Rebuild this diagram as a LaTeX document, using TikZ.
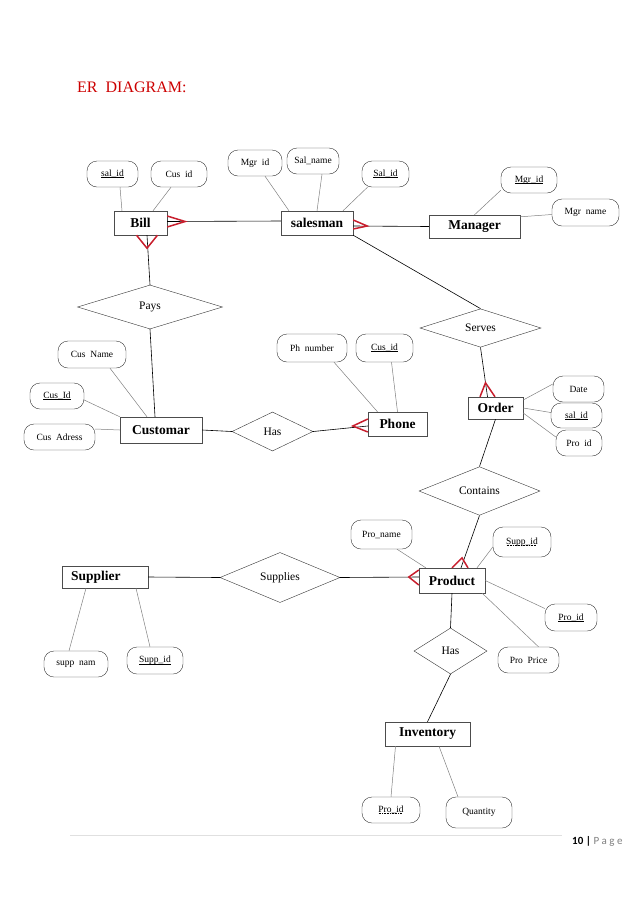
\documentclass[tikz,border=0pt]{standalone}
\usepackage{fontspec}
\setmainfont{Liberation Serif}
\newfontfamily\piedfont{Carlito}
\usetikzlibrary{shapes.geometric}
\definecolor{titre}{RGB}{204,0,0}
\definecolor{rouge}{RGB}{200,30,45}
\newcommand\souligne[1]{\leavevmode\setbox0\hbox{#1}\rlap{\vrule width\wd0 height -0.8pt depth 1.3pt}\box0}
\newcommand\pointille[1]{\leavevmode\setbox0\hbox{#1}\rlap{\hbox to\wd0{\leaders\hbox to 1.6pt{\hss\vrule width 0.8pt height -0.8pt depth 1.3pt\hss}\hfill}}\box0}

\begin{document}
\begin{tikzpicture}[x=1pt,y=-1pt]
\tikzset{entite/.style={draw=black!70, rectangle, inner sep=0pt, font=\fontsize{13.5}{16}\selectfont\bfseries},
  attribut/.style={draw=black!80, rectangle, rounded corners=10pt, inner sep=0pt, font=\fontsize{9.5}{11}\selectfont},
  relation/.style={draw=black!80, diamond, inner sep=0pt, font=\fontsize{11.5}{13}\selectfont},
  lien/.style={draw=black, line width=0.6pt},
  lienattr/.style={draw=black!50, line width=0.5pt},
  patte/.style={draw=rouge, line width=1.5pt}}
\useasboundingbox (0,0) rectangle (638,903);
\node[anchor=base west, inner sep=0pt, text=titre, font=\fontsize{16}{19}\selectfont] (Titre) at (77,92) {ER\ \ DIAGRAM:};
% entites
\node[entite, minimum width=53pt, minimum height=24pt] (Bill) at (140.5,223) {Bill};
\node[entite, minimum width=72pt, minimum height=24pt] (Salesman) at (317,223) {salesman};
\node[entite, minimum width=91pt, minimum height=23pt] (Manager) at (474.5,226.5) {Manager};
\node[entite, minimum width=82pt, minimum height=26pt] (Customar) at (161,430) {Customar};
\node[entite, minimum width=59pt, minimum height=24pt] (Phone) at (397.5,424) {Phone};
\node[entite, minimum width=55pt, minimum height=22pt] (Order) at (495.5,408) {Order};
\node[entite, minimum width=66pt, minimum height=25pt] (Product) at (452,580.5) {Product};
\node[entite, minimum height=22pt, inner xsep=9pt, text width=68pt, align=left] (Supplier) at (105,577) {Supplier};
\node[entite, minimum width=85pt, minimum height=24pt] (Inventory) at (427.5,734) {Inventory};
% relations
\node[relation, minimum width=145pt, minimum height=44pt] (Pays) at (150,307) {Pays};
\node[relation, minimum width=81pt, minimum height=39pt] (Has1) at (272.5,431.5) {Has};
\node[relation, minimum width=121pt, minimum height=38pt] (Serves) at (480.5,328) {Serves};
\node[relation, minimum width=121pt, minimum height=42pt] (Contains) at (479.5,491) {Contains};
\node[relation, minimum width=120pt, minimum height=45pt] (Supplies) at (280,577.5) {Supplies};
\node[relation, minimum width=73pt, minimum height=46pt] (Has2) at (450.5,651) {Has};
% attributs
\node[attribut, minimum width=51pt, minimum height=26pt] (BsalId) at (112.5,174) {\souligne{sal\_id}};
\node[attribut, minimum width=56pt, minimum height=26pt] (BcusId) at (179,174) {Cus\ \ id};
\node[attribut, minimum width=54pt, minimum height=26pt] (SmgrId) at (255,163) {Mgr\ \ id};
\node[attribut, minimum width=52pt, minimum height=26pt] (SalName) at (313,161) {Sal\_name};
\node[attribut, minimum width=47pt, minimum height=26pt] (SalId) at (385.5,174) {\souligne{Sal\_id}};
\node[attribut, minimum width=56pt, minimum height=26pt] (MmgrId) at (529,180) {\souligne{Mgr\_id}};
\node[attribut, minimum width=67pt, minimum height=27pt] (MgrName) at (585.5,212.5) {Mgr\ \ name};
\node[attribut, minimum width=68pt, minimum height=27pt] (CusName) at (92,354.5) {Cus\ \ Name};
\node[attribut, minimum width=54pt, minimum height=26pt] (CusId) at (57,396) {\souligne{Cus\_Id}};
\node[attribut, minimum width=71pt, minimum height=26pt] (CusAdr) at (59.5,437) {Cus\ \ Adress};
\node[attribut, minimum width=70pt, minimum height=28pt] (PhNum) at (312,348) {Ph\ \ number};
\node[attribut, minimum width=57pt, minimum height=28pt] (PcusId) at (384.5,348) {\souligne{Cus\_id}};
\node[attribut, minimum width=51pt, minimum height=26pt] (Date) at (578.5,389) {Date};
\node[attribut, minimum width=51pt, minimum height=25pt] (OsalId) at (576.5,415.5) {\souligne{sal\_id}};
\node[attribut, minimum width=46pt, minimum height=26pt] (OproId) at (579,443) {Pro\ \ id};
\node[attribut, minimum width=61pt, minimum height=29pt] (ProName) at (381.5,534.5) {Pro\_name};
\node[attribut, minimum width=58pt, minimum height=30pt] (PsuppId) at (522,542) {\pointille{Supp\_id}};
\node[attribut, minimum width=52pt, minimum height=27pt] (PproId) at (571,617.5) {\souligne{Pro\_id}};
\node[attribut, minimum width=61pt, minimum height=26pt] (ProPrice) at (528.5,660) {Pro\ \ Price};
\node[attribut, minimum width=64pt, minimum height=26pt] (SuppNam) at (76,664) {supp\ \ nam};
\node[attribut, minimum width=56pt, minimum height=27pt] (SsuppId) at (155,660.5) {\souligne{Supp\_id}};
\node[attribut, minimum width=58pt, minimum height=26pt] (IproId) at (391,810) {\pointille{Pro\_id}};
\node[attribut, minimum width=66pt, minimum height=31pt] (Quantity) at (479,812.5) {Quantity};
% liens des attributs
\draw[lienattr] ([xshift=-18.5pt]Bill.north) -- ([xshift=7.5pt]BsalId.south);
\draw[lienattr] ([xshift=12.5pt]Bill.north) -- ([xshift=-8pt]BcusId.south);
\draw[lienattr] ([xshift=-28pt]Salesman.north) -- ([xshift=10pt]SmgrId.south);
\draw[lienattr] (Salesman.north) -- ([xshift=9pt]SalName.south);
\draw[lienattr] ([xshift=26pt]Salesman.north) -- ([xshift=-18pt]SalId.south);
\draw[lienattr] (Manager.north) -- (MmgrId.200);
\draw[lienattr] ([yshift=-2pt]Manager.north east) -- ([yshift=-2pt]MgrName.west);
\draw[lienattr] ([xshift=-14pt]Customar.north) -- ([xshift=18pt]CusName.south);
\draw[lienattr] (Customar.north west) -- ([yshift=-4pt]CusId.east);
\draw[lienattr] (Customar.west) -- ([yshift=8pt]CusAdr.east);
\draw[lienattr] ([xshift=-20pt]Phone.north) -- ([xshift=22pt]PhNum.south);
\draw[lienattr] (Phone.north) -- ([xshift=7pt]PcusId.south);
\draw[lienattr] ([yshift=8pt]Order.east) -- ([yshift=5pt]Date.west);
\draw[lienattr] (Order.east) -- ([yshift=3pt]OsalId.west);
\draw[lienattr] ([yshift=-5pt]Order.east) -- ([yshift=6pt]OproId.west);
\draw[lienattr] ([xshift=7pt]Product.north west) -- ([xshift=15.5pt]ProName.south);
\draw[lienattr] ([xshift=25pt]Product.north) -- ([yshift=-5pt]PsuppId.west);
\draw[lienattr] (Product.east) -- ([yshift=9pt]PproId.west);
\draw[lienattr] ([xshift=-3pt]Product.south east) -- ([xshift=10pt]ProPrice.north);
\draw[lienattr] ([xshift=-19pt]Supplier.south) -- ([xshift=-7pt]SuppNam.north);
\draw[lienattr] ([xshift=31pt]Supplier.south) -- ([xshift=-5pt]SsuppId.north);
\draw[lienattr] ([xshift=-32pt]Inventory.south) -- (IproId.north);
\draw[lienattr] ([xshift=11.5pt]Inventory.south) -- ([xshift=-21pt]Quantity.north);
% liens des relations
\draw[lien] ([yshift=1.5pt]Bill.east) -- ([yshift=2pt]Salesman.west);
\draw[lien] (Pays.north) -- ([xshift=6.5pt]Bill.south);
\draw[lien] ([yshift=-3pt]Salesman.east) -- (Manager.west);
\draw[lien] (Salesman.south east) -- (Serves.north);
\draw[lien] (Serves.south) -- ([xshift=-8pt]Order.north);
\draw[lien] (Order.south) -- (Contains.north);
\draw[lien] (Contains.south) -- ([xshift=9pt]Product.north);
\draw[lien] (Pays.south) -- ([xshift=-6pt]Customar.north);
\draw[lien] (Customar.east) -- (Has1.west);
\draw[lien] (Has1.east) -- ([yshift=-2pt]Phone.west);
\draw[lien] (Supplier.east) -- (Supplies.west);
\draw[lien] (Supplies.east) -- ([yshift=3.5pt]Product.west);
\draw[lien] (Product.south) -- (Has2.north);
\draw[lien] (Has2.south) -- (Inventory.north);
% pattes de corbeau
\coordinate (BillPatteE) at ([xshift=18pt,yshift=1.5pt]Bill.east);
\coordinate (BillPatteS) at ([xshift=6.5pt,yshift=-13pt]Bill.south);
\coordinate (SalPatte) at ([xshift=14pt,yshift=-3pt]Salesman.east);
\coordinate (PhonePatte) at ([xshift=-15pt,yshift=-2pt]Phone.west);
\coordinate (OrderPatte) at ([xshift=-10pt,yshift=14pt]Order.north);
\coordinate (ProdPatteN) at ([xshift=10pt,yshift=10pt]Product.north);
\coordinate (ProdPatteO) at ([xshift=-10pt,yshift=3.5pt]Product.west);
\draw[patte] ([yshift=7pt]Bill.east) -- (BillPatteE) -- ([yshift=-4pt]Bill.east);
\draw[patte] ([xshift=-4pt]Bill.south) -- (BillPatteS) -- ([xshift=17pt]Bill.south);
\draw[patte] ([yshift=3pt]Salesman.east) -- (SalPatte) -- ([yshift=-6pt]Salesman.east);
\draw[patte] ([yshift=5pt]Phone.west) -- (PhonePatte) -- ([yshift=-8pt]Phone.west);
\draw[patte] ([xshift=-15.5pt]Order.north) -- (OrderPatte) -- ([xshift=-0.5pt]Order.north);
\draw[patte] (Product.north) -- (ProdPatteN) -- ([xshift=16pt]Product.north);
\draw[patte] ([yshift=10.5pt]Product.west) -- (ProdPatteO) -- ([yshift=-4.5pt]Product.west);
% pied de page
\draw[black!12] (70,835) -- (562,835);
\node[anchor=base west, inner sep=0pt, font=\piedfont\fontsize{11}{13}\selectfont] (Page) at (572,844) {\textbf{10 |} \textcolor{black!50}{P a g e}};
\end{tikzpicture}
\end{document}
